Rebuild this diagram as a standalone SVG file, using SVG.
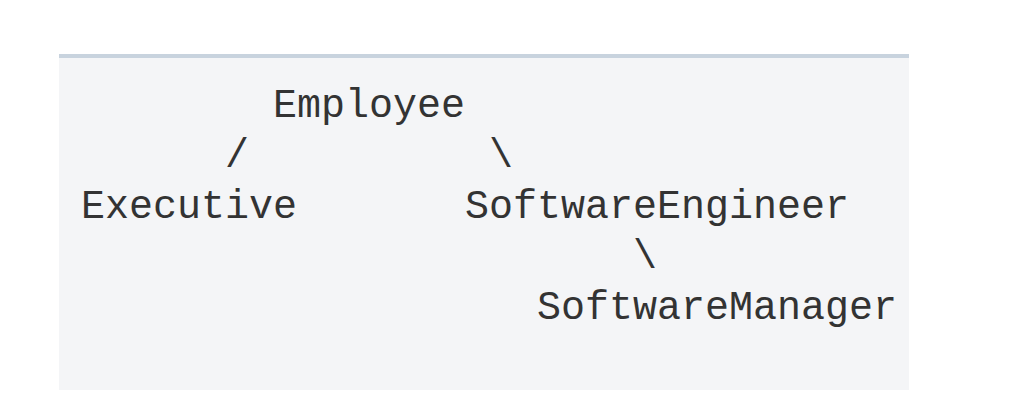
<svg xmlns="http://www.w3.org/2000/svg" width="1024" height="411" viewBox="0 0 1024 411">
  <style>
    .t { font-family: "Liberation Mono", "DejaVu Sans Mono", monospace; font-size: 40px; fill: #333333; }
  </style>
  <rect x="0" y="0" width="1024" height="411" fill="#ffffff"/>
  <rect x="59" y="55" width="850" height="335" fill="#f4f5f7"/>
  <rect x="59" y="54" width="850" height="4" fill="#c8d3de"/>
  <g id="connectors">
    <text class="t" x="225" y="167">/</text>
    <text class="t" x="489" y="167">\</text>
    <text class="t" x="633" y="268">\</text>
  </g>
  <g id="employee"><text class="t" x="273" y="117">Employee</text></g>
  <g id="executive"><text class="t" x="81" y="218">Executive</text></g>
  <g id="software-engineer"><text class="t" x="465" y="218">SoftwareEngineer</text></g>
  <g id="software-manager"><text class="t" x="537" y="319">SoftwareManager</text></g>
</svg>
